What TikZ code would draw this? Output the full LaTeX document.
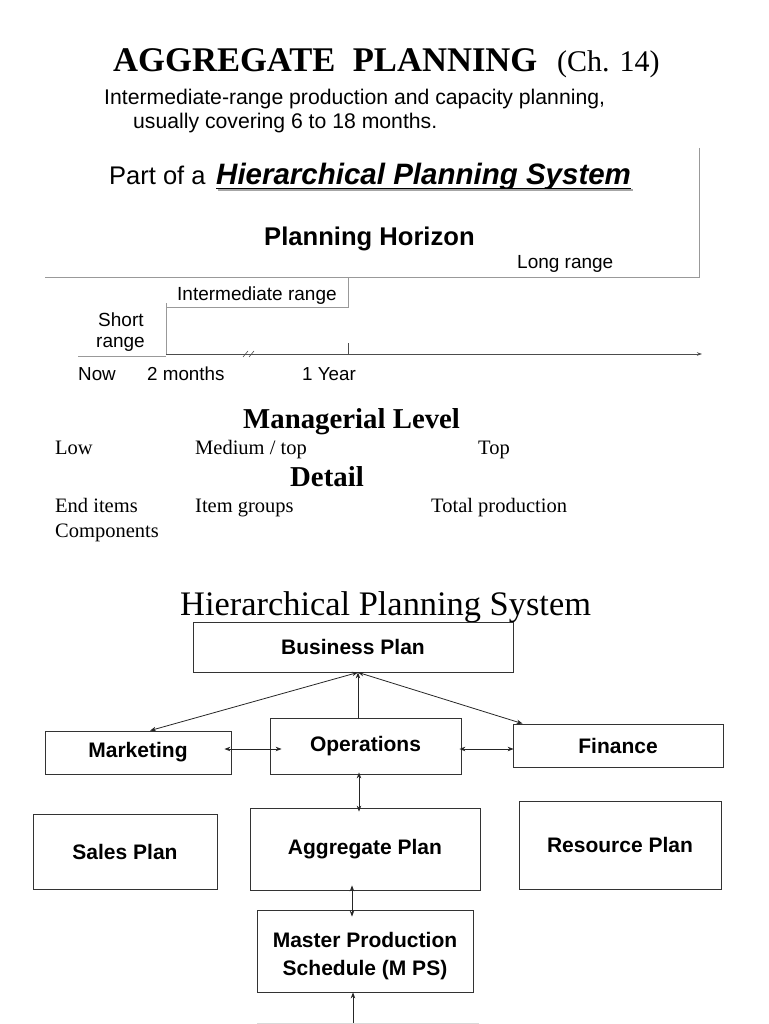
\documentclass[tikz,border=0pt]{standalone}
\usepackage{fontspec}
\setmainfont{Liberation Serif}
\setsansfont{Liberation Sans}
\usetikzlibrary{arrows.meta, positioning}

\begin{document}
\begin{tikzpicture}[
    x=1pt, y=-1pt,
    txt/.style={inner sep=0pt, anchor=base west},
    sanstxt/.style={txt, font=\sffamily\fontsize{19}{22}\selectfont},
    seriftxt/.style={txt, font=\rmfamily\fontsize{20.5}{24}\selectfont},
    serifhead/.style={txt, font=\rmfamily\bfseries\fontsize{28.8}{32}\selectfont},
    plan/.style={draw=black!80, line width=0.8pt, inner sep=0pt, align=center, font=\sffamily\bfseries\fontsize{21}{28}\selectfont},
    frame/.style={draw=black!40, line width=0.8pt},
    axis/.style={draw=black!70, line width=0.8pt},
    arr/.style={-{Stealth[length=6pt,width=4.5pt]}, line width=0.8pt, black!85},
    darr/.style={{Stealth[length=6pt,width=4.5pt]}-{Stealth[length=6pt,width=4.5pt]}, line width=0.8pt, black!85},
]
\useasboundingbox (0,0) rectangle (768,1024);

% Title and subtitle
\node[txt, font=\rmfamily\bfseries\fontsize{34.6}{38}\selectfont] (ttl) at (113,72) {AGGREGATE\ \ PLANNING};
\node[txt, font=\rmfamily\fontsize{30}{34}\selectfont] (ttlch) at (557,72) {(Ch. 14)};
\node[sanstxt, font=\sffamily\fontsize{21.2}{24}\selectfont] (sub1) at (104,105) {Intermediate-range production and capacity planning,};
\node[sanstxt, font=\sffamily\fontsize{21.2}{24}\selectfont] (sub2) at (133,129) {usually covering 6 to 18 months.};

% Part of a hierarchical planning system
\node[txt, font=\sffamily\fontsize{25.5}{30}\selectfont] (partof) at (109,185) {Part of a};
\node[txt, font=\sffamily\bfseries\itshape\fontsize{29.5}{34}\selectfont] (hps) at (216,185) {Hierarchical Planning System};
\draw[black!35, line width=1.8pt] ([xshift=1.5pt, yshift=-5pt]hps.base west) -- ([xshift=1.5pt, yshift=-5pt]hps.base east);
\draw[line width=1.8pt] ([yshift=-3.5pt]hps.base west) -- ([yshift=-3.5pt]hps.base east);

% Planning horizon
\node[txt, font=\sffamily\bfseries\fontsize{25.6}{28}\selectfont] (horizon) at (264,245) {Planning Horizon};
\node[sanstxt] (longr) at (517,268) {Long range};
\node[sanstxt] (interr) at (177,300) {Intermediate range};
\node[sanstxt] (shortr1) at (98,326) {Short};
\node[sanstxt] (shortr2) at (96,347) {range};

\coordinate (frtop) at (699,148);
\coordinate (frcorner) at (699,277);
\coordinate (frleft) at (45,277);
\coordinate (istep) at (348,277);
\coordinate (ibottom) at (348,307);
\coordinate (ileft) at (166,307);
\draw[frame] (frtop) -- (frcorner) -- (frleft);
\draw[frame] (istep) -- (ibottom) -- (ileft);
\draw[frame] (166,303) -- (166,354);
\draw[frame] (78,356) -- (166,356);

% Time axis
\coordinate (ax0) at (166,354);
\coordinate (ax1) at (702,354);
\draw[axis, -{Stealth[length=5pt,width=3.5pt]}] (ax0) -- (ax1);
\draw[axis] (348,343) -- (348,354);
\foreach \bx in {243,249} {
    \draw[axis, line width=0.6pt] (\bx,357) -- (\bx+5,351);
}
\node[sanstxt, font=\sffamily\fontsize{18.8}{22}\selectfont] (now) at (78,380) {Now};
\node[sanstxt, font=\sffamily\fontsize{18.8}{22}\selectfont] (twom) at (147,380) {2 months};
\node[sanstxt, font=\sffamily\fontsize{18.8}{22}\selectfont] (oneyr) at (302,380) {1 Year};

% Managerial level and detail
\node[serifhead] (mgr) at (243,428) {Managerial Level};
\node[seriftxt] (low) at (55,454) {Low};
\node[seriftxt] (med) at (195,454) {Medium / top};
\node[seriftxt] (topl) at (478,454) {Top};
\node[serifhead] (detail) at (290,486) {Detail};
\node[seriftxt] (endit) at (55,512) {End items};
\node[seriftxt] (itemg) at (195,512) {Item groups};
\node[seriftxt] (totp) at (431,512) {Total production};
\node[seriftxt] (comp) at (55,537) {Components};

% Hierarchical planning system chart
\node[txt, font=\rmfamily\fontsize{34.4}{38}\selectfont] (hpstitle) at (180,615) {Hierarchical Planning System};

\node[plan, minimum width=320pt, minimum height=50pt] (bp) at (353,647) {Business Plan};
\node[plan, minimum width=186pt, minimum height=43pt] (mkt) at (138,752.5) {Marketing};
\node[plan, minimum width=191pt, minimum height=56pt] (ops) at (365.5,746) {Operations};
\node[plan, minimum width=210pt, minimum height=43pt] (fin) at (618,745.5) {Finance};
\node[plan, minimum width=184pt, minimum height=75pt] (sales) at (125,851.5) {Sales Plan};
\node[plan, minimum width=230pt, minimum height=82pt] (agg) at (365,849) {Aggregate Plan};
\node[plan, minimum width=202pt, minimum height=88pt] (res) at (620,845) {Resource Plan};
\node[plan, minimum width=216pt, minimum height=82pt, text height=53pt] (mps) at (365,951) {Master Production\\Schedule (M PS)};
\node[plan, draw=black!15, minimum width=221pt, minimum height=60pt] (nextbox) at (367.5,1053) {};

% Connectors
\coordinate (hub) at ([xshift=5pt]bp.south);
\draw[darr] ([xshift=12pt]mkt.north) -- (hub);
\draw[arr] (ops.north -| hub) -- (hub);
\draw[darr] (hub) -- ([xshift=10pt]fin.north west);
\draw[darr, shorten <=-7pt, shorten >=-12pt] (mkt.east |- 0,749) -- (ops.west |- 0,749);
\draw[darr, shorten <=-2pt, shorten >=-1pt] (ops.east |- 0,749) -- (fin.west |- 0,749);
\draw[darr, shorten <=-2pt, shorten >=-4pt] (ops.south -| 359,0) -- (agg.north -| 359,0);
\draw[darr, shorten <=-5pt, shorten >=-7pt] (agg.south -| 352,0) -- (mps.north -| 352,0);
\draw[arr] (nextbox.north -| 353,0) -- (mps.south -| 353,0);

\end{tikzpicture}
\end{document}
